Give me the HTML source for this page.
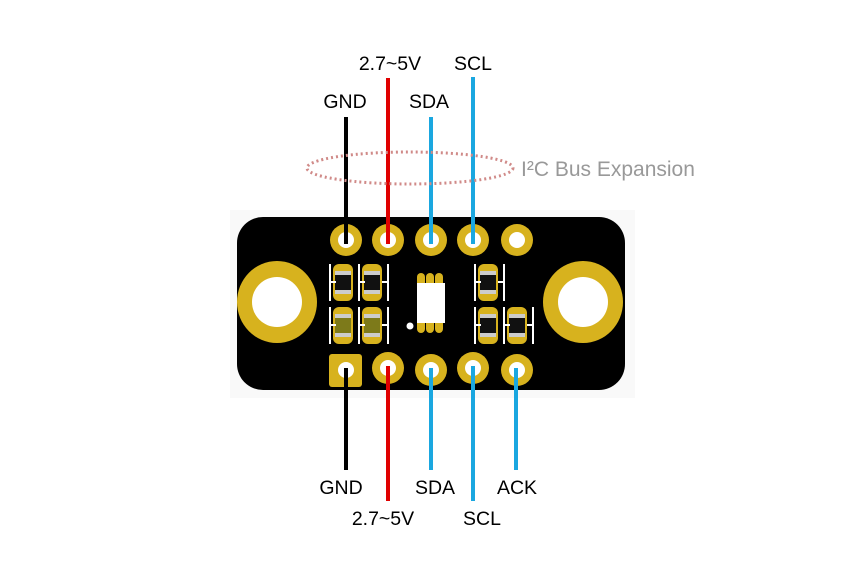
<!DOCTYPE html>
<html><head><meta charset="utf-8"><style>
html,body{margin:0;padding:0;background:#fff;}
svg{display:block;}
text{font-family:"Liberation Sans","DejaVu Sans",sans-serif;font-size:19.5px;fill:#000;}
</style></head><body>
<svg width="855" height="570" viewBox="0 0 855 570">
<rect x="230" y="210" width="405" height="188" fill="#f9f9f9"/>
<rect x="237" y="217" width="388" height="173" rx="26" fill="#000"/>
<ellipse cx="277" cy="302" rx="40" ry="41" fill="#d7b21e"/>
<circle cx="277" cy="302" r="25" fill="#fff"/>
<ellipse cx="583" cy="302" rx="40" ry="41" fill="#d7b21e"/>
<circle cx="583" cy="302" r="25" fill="#fff"/>
<g fill="#d7b21e">
<circle cx="346" cy="240" r="16"/><circle cx="388" cy="240" r="16"/><circle cx="431" cy="240" r="16"/><circle cx="473" cy="240" r="16"/><circle cx="517" cy="240" r="16"/>
<rect x="329" y="354" width="33" height="33" rx="3"/><circle cx="388" cy="368" r="16"/><circle cx="431" cy="370" r="16"/><circle cx="473" cy="368" r="16"/><circle cx="517" cy="370" r="16"/>
</g>
<g fill="#fff">
<circle cx="346" cy="240" r="8"/><circle cx="388" cy="240" r="8"/><circle cx="431" cy="240" r="8"/><circle cx="473" cy="240" r="8"/><circle cx="517" cy="240" r="8"/>
<circle cx="346" cy="370" r="8"/><circle cx="388" cy="368" r="8"/><circle cx="431" cy="370" r="8"/><circle cx="473" cy="368" r="8"/><circle cx="517" cy="370" r="8"/>
</g>
<g>
<g><rect x="333" y="264" width="20" height="37" rx="6" fill="#d7b21e"/><rect x="335" y="271" width="16" height="23" fill="#ccc"/><rect x="335" y="275" width="16" height="15" fill="#111"/></g>
<g transform="translate(29,0)"><rect x="333" y="264" width="20" height="37" rx="6" fill="#d7b21e"/><rect x="335" y="271" width="16" height="23" fill="#ccc"/><rect x="335" y="275" width="16" height="15" fill="#111"/></g>
<g transform="translate(0,43)"><rect x="333" y="264" width="20" height="37" rx="6" fill="#d7b21e"/><rect x="335" y="271" width="16" height="23" fill="#ccc"/><rect x="335" y="275" width="16" height="15" fill="#7d7a1a"/></g>
<g transform="translate(29,43)"><rect x="333" y="264" width="20" height="37" rx="6" fill="#d7b21e"/><rect x="335" y="271" width="16" height="23" fill="#ccc"/><rect x="335" y="275" width="16" height="15" fill="#7d7a1a"/></g>
<g transform="translate(145,0)"><rect x="333" y="264" width="20" height="37" rx="6" fill="#d7b21e"/><rect x="335" y="271" width="16" height="23" fill="#ccc"/><rect x="335" y="275" width="16" height="15" fill="#111"/></g>
<g transform="translate(145,43)"><rect x="333" y="264" width="20" height="37" rx="6" fill="#d7b21e"/><rect x="335" y="271" width="16" height="23" fill="#ccc"/><rect x="335" y="275" width="16" height="15" fill="#111"/></g>
<g transform="translate(174,43)"><rect x="333" y="264" width="20" height="37" rx="6" fill="#d7b21e"/><rect x="335" y="271" width="16" height="23" fill="#ccc"/><rect x="335" y="275" width="16" height="15" fill="#111"/></g>
</g>
<g stroke="#fff" stroke-width="2" fill="none">
<path d="M330 264v37M330 282h6M359 264v37M359 282h6M388 264v37M382 282h6"/>
<path d="M330 307v37M330 325h6M359 307v37M359 325h6M388 307v37M382 325h6"/>
<path d="M475 264v37M475 282h6M504 264v37M498 282h6"/>
<path d="M475 307v37M475 325h6M504 307v37M504 325h6M533 307v37M527 325h6"/>
</g>
<g fill="#d7b21e"><rect x="417" y="273" width="8" height="60" rx="4"/><rect x="426" y="273" width="8" height="60" rx="4"/><rect x="435" y="273" width="8" height="60" rx="4"/></g>
<rect x="417" y="283" width="28" height="40" fill="#fff"/>
<circle cx="410" cy="326" r="3.5" fill="#fff"/>
<g stroke-width="4">
<line x1="346" y1="117" x2="346" y2="244" stroke="#000"/>
<line x1="388" y1="78" x2="388" y2="244" stroke="#e00000"/>
<line x1="431" y1="117" x2="431" y2="244" stroke="#1aa7e0"/>
<line x1="473" y1="77" x2="473" y2="244" stroke="#1aa7e0"/>
<line x1="346" y1="368" x2="346" y2="470" stroke="#000"/>
<line x1="388" y1="366" x2="388" y2="501" stroke="#e00000"/>
<line x1="431" y1="368" x2="431" y2="470" stroke="#1aa7e0"/>
<line x1="473" y1="366" x2="473" y2="501" stroke="#1aa7e0"/>
<line x1="516" y1="368" x2="516" y2="470" stroke="#1aa7e0"/>
</g>
<ellipse cx="410" cy="168" rx="103" ry="16" fill="none" stroke="#d08a88" stroke-width="3" stroke-dasharray="2 3"/>
<text x="521" y="176" style="fill:#999;font-size:21px">I²C Bus Expansion</text>
<g text-anchor="middle">
<text x="390" y="70">2.7~5V</text>
<text x="473" y="70">SCL</text>
<text x="345" y="108">GND</text>
<text x="429" y="108">SDA</text>
<text x="341" y="494">GND</text>
<text x="435" y="494">SDA</text>
<text x="517" y="494">ACK</text>
<text x="383" y="525">2.7~5V</text>
<text x="482" y="525">SCL</text>
</g>
</svg>
</body></html>
